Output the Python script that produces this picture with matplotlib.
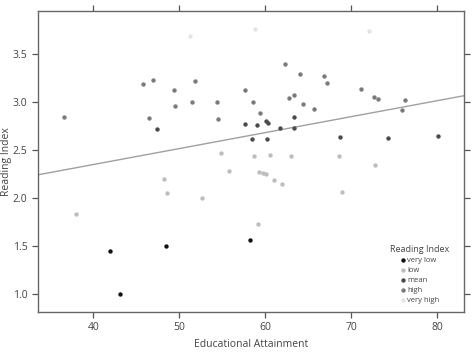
import matplotlib
matplotlib.use("Agg")
import matplotlib.pyplot as plt
import numpy as np

plt.rcParams['font.family'] = ['Open Sans', 'DejaVu Sans']

# Reading Index groups: (educational attainment, reading index)
very_low_x = [41.98, 43.15, 48.44, 58.18]
very_low_y = [1.45, 1.00, 1.50, 1.56]

low_x = [37.95, 48.24, 48.55, 52.63, 54.88, 55.82, 58.65, 59.3, 59.7, 60.1,
         60.56, 61.02, 61.96, 63.0, 59.11, 68.55, 68.95, 72.8]
low_y = [1.83, 2.20, 2.05, 2.00, 2.47, 2.28, 2.43, 2.27, 2.26, 2.25,
         2.44, 2.18, 2.14, 2.43, 1.73, 2.43, 2.06, 2.34]

mean_x = [47.46, 57.68, 59.0, 60.09, 60.36, 61.68, 63.31, 63.39, 58.5, 60.24,
          68.67, 74.27, 80.1]
mean_y = [2.72, 2.77, 2.76, 2.80, 2.78, 2.73, 2.73, 2.84, 2.61, 2.61,
          2.63, 2.62, 2.64]

high_x = [36.62, 45.83, 46.99, 46.53, 49.44, 51.85, 49.52, 51.5, 54.45, 54.5,
          57.68, 62.26, 64.09, 66.89, 67.2, 58.58, 62.73, 63.31, 64.4, 65.72,
          59.39, 71.1, 72.63, 73.18, 76.25, 75.9]
high_y = [2.84, 3.18, 3.23, 2.83, 3.12, 3.22, 2.96, 3.00, 3.00, 2.82,
          3.12, 3.39, 3.29, 3.27, 3.19, 3.00, 3.04, 3.07, 2.98, 2.92,
          2.88, 3.13, 3.05, 3.03, 3.02, 2.91]

very_high_x = [51.27, 58.77, 72.1]
very_high_y = [3.68, 3.76, 3.74]

groups = [
    ("very low", very_low_x, very_low_y, "#111111"),
    ("low", low_x, low_y, "#bdbdbd"),
    ("mean", mean_x, mean_y, "#4a4a4a"),
    ("high", high_x, high_y, "#7a7a7a"),
    ("very high", very_high_x, very_high_y, "#e4e4e4"),
]

# fitted regression line
fit_intercept = 1.682
fit_slope = 0.0166

fig = plt.figure(figsize=(4.74, 3.56), dpi=100)
ax = fig.add_axes([0.080, 0.124, 0.899, 0.844])

xmin, xmax = 33.55, 83.15
ax.set_xlim(xmin, xmax)
ax.set_ylim(0.8125, 3.94)

line_x = np.array([xmin, xmax])
ax.plot(line_x, fit_intercept + fit_slope * line_x, color="#a0a0a0", lw=1.0, zorder=1)

for name, gx, gy, col in groups:
    ax.scatter(gx, gy, s=10, color=col, label=name, zorder=2, linewidths=0)

ax.set_xticks([40, 50, 60, 70, 80])
ax.set_yticks([1.0, 1.5, 2.0, 2.5, 3.0, 3.5])
ax.tick_params(axis="both", which="both", direction="out", length=4, width=0.9,
               color="#555555", labelsize=7.5, labelcolor="#444444",
               top=True, right=True, labeltop=False, labelright=False)
for sp in ax.spines.values():
    sp.set_color("#666666")
    sp.set_linewidth(1.0)

ax.set_xlabel("Educational Attainment", fontsize=7.5, color="#444444", labelpad=4)
ax.set_ylabel("Reading Index", fontsize=7.5, color="#444444")
ax.yaxis.set_label_coords(-0.060, 0.5)

leg = ax.legend(title="Reading Index", loc="lower right", bbox_to_anchor=(0.975, 0.01),
                frameon=False, fontsize=5.5, title_fontsize=6.5, handletextpad=0.1,
                labelspacing=0.35, markerscale=1.0, handlelength=1.0,
                borderaxespad=0.2)
for t in leg.get_texts():
    t.set_color("#444444")
leg.get_title().set_color("#444444")

fig.savefig("out.png", dpi=100)
